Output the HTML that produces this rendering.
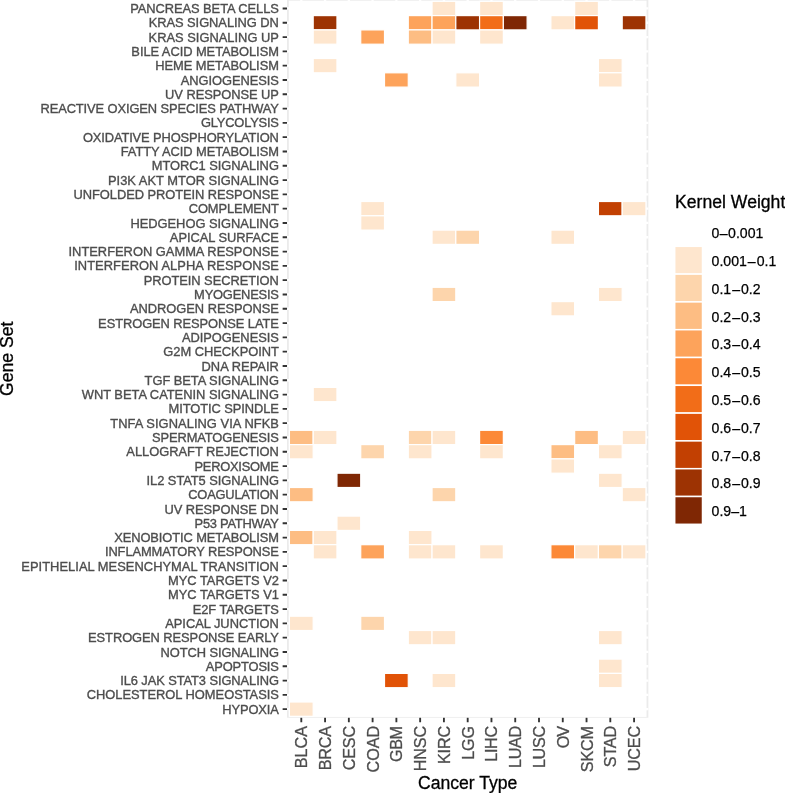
<!DOCTYPE html>
<html lang="en"><head><meta charset="utf-8"><title>Kernel Weight heatmap</title>
<style>html,body{margin:0;padding:0;background:#fff}svg{display:block}text{font-family:"Liberation Sans",Arial,Helvetica,sans-serif}.yl{font-size:12.88px;fill:#4d4d4d;stroke:#4d4d4d;stroke-width:.35px}.xl{font-size:16.2px;fill:#4d4d4d;stroke:#4d4d4d;stroke-width:.3px}.tt{font-size:17.6px;fill:#000;stroke:#000;stroke-width:.3px}.lg{font-size:14.08px;fill:#000;stroke:#000;stroke-width:.25px}</style></head><body>
<svg width="785" height="793" viewBox="0 0 785 793">
<rect width="785" height="793" fill="#fff"/>
<rect x="287.04" y="-0.13" width="361.30" height="717.86" fill="#ebebeb"/>
<path d="M301.30 -0.13V717.73M325.07 -0.13V717.73M348.84 -0.13V717.73M372.61 -0.13V717.73M396.38 -0.13V717.73M420.15 -0.13V717.73M443.92 -0.13V717.73M467.69 -0.13V717.73M491.46 -0.13V717.73M515.23 -0.13V717.73M539.00 -0.13V717.73M562.77 -0.13V717.73M586.54 -0.13V717.73M610.31 -0.13V717.73M634.08 -0.13V717.73M287.04 8.45H648.34M287.04 22.75H648.34M287.04 37.05H648.34M287.04 51.35H648.34M287.04 65.65H648.34M287.04 79.95H648.34M287.04 94.25H648.34M287.04 108.55H648.34M287.04 122.85H648.34M287.04 137.15H648.34M287.04 151.45H648.34M287.04 165.75H648.34M287.04 180.05H648.34M287.04 194.35H648.34M287.04 208.65H648.34M287.04 222.95H648.34M287.04 237.25H648.34M287.04 251.55H648.34M287.04 265.85H648.34M287.04 280.15H648.34M287.04 294.45H648.34M287.04 308.75H648.34M287.04 323.05H648.34M287.04 337.35H648.34M287.04 351.65H648.34M287.04 365.95H648.34M287.04 380.25H648.34M287.04 394.55H648.34M287.04 408.85H648.34M287.04 423.15H648.34M287.04 437.45H648.34M287.04 451.75H648.34M287.04 466.05H648.34M287.04 480.35H648.34M287.04 494.65H648.34M287.04 508.95H648.34M287.04 523.25H648.34M287.04 537.55H648.34M287.04 551.85H648.34M287.04 566.15H648.34M287.04 580.45H648.34M287.04 594.75H648.34M287.04 609.05H648.34M287.04 623.35H648.34M287.04 637.65H648.34M287.04 651.95H648.34M287.04 666.25H648.34M287.04 680.55H648.34M287.04 694.85H648.34M287.04 709.15H648.34" stroke="#fff" stroke-width="2.28" fill="none"/>
<rect x="289.42" y="1.30" width="356.55" height="715.00" fill="#fff" stroke="#fff" stroke-width="1.2"/>
<rect x="432.04" y="1.30" width="23.77" height="14.30" fill="#FEE6CE" stroke="#fff" stroke-width="1.2"/>
<rect x="479.58" y="1.30" width="23.77" height="14.30" fill="#FEE6CE" stroke="#fff" stroke-width="1.2"/>
<rect x="574.65" y="1.30" width="23.77" height="14.30" fill="#FEE6CE" stroke="#fff" stroke-width="1.2"/>
<rect x="313.19" y="15.60" width="23.77" height="14.30" fill="#9D3303" stroke="#fff" stroke-width="1.2"/>
<rect x="408.26" y="15.60" width="23.77" height="14.30" fill="#FDA35B" stroke="#fff" stroke-width="1.2"/>
<rect x="432.04" y="15.60" width="23.77" height="14.30" fill="#FDA35B" stroke="#fff" stroke-width="1.2"/>
<rect x="455.81" y="15.60" width="23.77" height="14.30" fill="#9D3303" stroke="#fff" stroke-width="1.2"/>
<rect x="479.58" y="15.60" width="23.77" height="14.30" fill="#F26D18" stroke="#fff" stroke-width="1.2"/>
<rect x="503.35" y="15.60" width="23.77" height="14.30" fill="#7F2704" stroke="#fff" stroke-width="1.2"/>
<rect x="550.88" y="15.60" width="23.77" height="14.30" fill="#FEE6CE" stroke="#fff" stroke-width="1.2"/>
<rect x="574.65" y="15.60" width="23.77" height="14.30" fill="#E15307" stroke="#fff" stroke-width="1.2"/>
<rect x="622.19" y="15.60" width="23.77" height="14.30" fill="#9D3303" stroke="#fff" stroke-width="1.2"/>
<rect x="313.19" y="29.90" width="23.77" height="14.30" fill="#FEE6CE" stroke="#fff" stroke-width="1.2"/>
<rect x="360.73" y="29.90" width="23.77" height="14.30" fill="#FDA35B" stroke="#fff" stroke-width="1.2"/>
<rect x="408.26" y="29.90" width="23.77" height="14.30" fill="#FDBD83" stroke="#fff" stroke-width="1.2"/>
<rect x="432.04" y="29.90" width="23.77" height="14.30" fill="#FEE6CE" stroke="#fff" stroke-width="1.2"/>
<rect x="479.58" y="29.90" width="23.77" height="14.30" fill="#FEE6CE" stroke="#fff" stroke-width="1.2"/>
<rect x="313.19" y="58.50" width="23.77" height="14.30" fill="#FEE6CE" stroke="#fff" stroke-width="1.2"/>
<rect x="598.42" y="58.50" width="23.77" height="14.30" fill="#FEE6CE" stroke="#fff" stroke-width="1.2"/>
<rect x="384.50" y="72.80" width="23.77" height="14.30" fill="#FDA35B" stroke="#fff" stroke-width="1.2"/>
<rect x="455.81" y="72.80" width="23.77" height="14.30" fill="#FEE6CE" stroke="#fff" stroke-width="1.2"/>
<rect x="598.42" y="72.80" width="23.77" height="14.30" fill="#FEE6CE" stroke="#fff" stroke-width="1.2"/>
<rect x="360.73" y="201.50" width="23.77" height="14.30" fill="#FEE6CE" stroke="#fff" stroke-width="1.2"/>
<rect x="598.42" y="201.50" width="23.77" height="14.30" fill="#C24002" stroke="#fff" stroke-width="1.2"/>
<rect x="622.19" y="201.50" width="23.77" height="14.30" fill="#FEE6CE" stroke="#fff" stroke-width="1.2"/>
<rect x="360.73" y="215.80" width="23.77" height="14.30" fill="#FEE6CE" stroke="#fff" stroke-width="1.2"/>
<rect x="432.04" y="230.10" width="23.77" height="14.30" fill="#FEE6CE" stroke="#fff" stroke-width="1.2"/>
<rect x="455.81" y="230.10" width="23.77" height="14.30" fill="#FDD5AC" stroke="#fff" stroke-width="1.2"/>
<rect x="550.88" y="230.10" width="23.77" height="14.30" fill="#FEE6CE" stroke="#fff" stroke-width="1.2"/>
<rect x="432.04" y="287.30" width="23.77" height="14.30" fill="#FDD5AC" stroke="#fff" stroke-width="1.2"/>
<rect x="598.42" y="287.30" width="23.77" height="14.30" fill="#FEE6CE" stroke="#fff" stroke-width="1.2"/>
<rect x="550.88" y="301.60" width="23.77" height="14.30" fill="#FEE6CE" stroke="#fff" stroke-width="1.2"/>
<rect x="313.19" y="387.40" width="23.77" height="14.30" fill="#FEE6CE" stroke="#fff" stroke-width="1.2"/>
<rect x="289.42" y="430.30" width="23.77" height="14.30" fill="#FDBD83" stroke="#fff" stroke-width="1.2"/>
<rect x="313.19" y="430.30" width="23.77" height="14.30" fill="#FEE6CE" stroke="#fff" stroke-width="1.2"/>
<rect x="408.26" y="430.30" width="23.77" height="14.30" fill="#FDD5AC" stroke="#fff" stroke-width="1.2"/>
<rect x="432.04" y="430.30" width="23.77" height="14.30" fill="#FEE6CE" stroke="#fff" stroke-width="1.2"/>
<rect x="479.58" y="430.30" width="23.77" height="14.30" fill="#FC8937" stroke="#fff" stroke-width="1.2"/>
<rect x="574.65" y="430.30" width="23.77" height="14.30" fill="#FDBD83" stroke="#fff" stroke-width="1.2"/>
<rect x="622.19" y="430.30" width="23.77" height="14.30" fill="#FEE6CE" stroke="#fff" stroke-width="1.2"/>
<rect x="289.42" y="444.60" width="23.77" height="14.30" fill="#FEE6CE" stroke="#fff" stroke-width="1.2"/>
<rect x="360.73" y="444.60" width="23.77" height="14.30" fill="#FDD5AC" stroke="#fff" stroke-width="1.2"/>
<rect x="408.26" y="444.60" width="23.77" height="14.30" fill="#FEE6CE" stroke="#fff" stroke-width="1.2"/>
<rect x="479.58" y="444.60" width="23.77" height="14.30" fill="#FEE6CE" stroke="#fff" stroke-width="1.2"/>
<rect x="550.88" y="444.60" width="23.77" height="14.30" fill="#FDBD83" stroke="#fff" stroke-width="1.2"/>
<rect x="598.42" y="444.60" width="23.77" height="14.30" fill="#FEE6CE" stroke="#fff" stroke-width="1.2"/>
<rect x="550.88" y="458.90" width="23.77" height="14.30" fill="#FEE6CE" stroke="#fff" stroke-width="1.2"/>
<rect x="336.96" y="473.20" width="23.77" height="14.30" fill="#7F2704" stroke="#fff" stroke-width="1.2"/>
<rect x="598.42" y="473.20" width="23.77" height="14.30" fill="#FEE6CE" stroke="#fff" stroke-width="1.2"/>
<rect x="289.42" y="487.50" width="23.77" height="14.30" fill="#FDBD83" stroke="#fff" stroke-width="1.2"/>
<rect x="432.04" y="487.50" width="23.77" height="14.30" fill="#FDD5AC" stroke="#fff" stroke-width="1.2"/>
<rect x="622.19" y="487.50" width="23.77" height="14.30" fill="#FEE6CE" stroke="#fff" stroke-width="1.2"/>
<rect x="336.96" y="516.10" width="23.77" height="14.30" fill="#FEE6CE" stroke="#fff" stroke-width="1.2"/>
<rect x="289.42" y="530.40" width="23.77" height="14.30" fill="#FDBD83" stroke="#fff" stroke-width="1.2"/>
<rect x="313.19" y="530.40" width="23.77" height="14.30" fill="#FEE6CE" stroke="#fff" stroke-width="1.2"/>
<rect x="408.26" y="530.40" width="23.77" height="14.30" fill="#FEE6CE" stroke="#fff" stroke-width="1.2"/>
<rect x="313.19" y="544.70" width="23.77" height="14.30" fill="#FEE6CE" stroke="#fff" stroke-width="1.2"/>
<rect x="360.73" y="544.70" width="23.77" height="14.30" fill="#FDA35B" stroke="#fff" stroke-width="1.2"/>
<rect x="408.26" y="544.70" width="23.77" height="14.30" fill="#FEE6CE" stroke="#fff" stroke-width="1.2"/>
<rect x="432.04" y="544.70" width="23.77" height="14.30" fill="#FEE6CE" stroke="#fff" stroke-width="1.2"/>
<rect x="479.58" y="544.70" width="23.77" height="14.30" fill="#FEE6CE" stroke="#fff" stroke-width="1.2"/>
<rect x="550.88" y="544.70" width="23.77" height="14.30" fill="#FC8937" stroke="#fff" stroke-width="1.2"/>
<rect x="574.65" y="544.70" width="23.77" height="14.30" fill="#FEE6CE" stroke="#fff" stroke-width="1.2"/>
<rect x="598.42" y="544.70" width="23.77" height="14.30" fill="#FDD5AC" stroke="#fff" stroke-width="1.2"/>
<rect x="622.19" y="544.70" width="23.77" height="14.30" fill="#FEE6CE" stroke="#fff" stroke-width="1.2"/>
<rect x="289.42" y="616.20" width="23.77" height="14.30" fill="#FEE6CE" stroke="#fff" stroke-width="1.2"/>
<rect x="360.73" y="616.20" width="23.77" height="14.30" fill="#FDD5AC" stroke="#fff" stroke-width="1.2"/>
<rect x="408.26" y="630.50" width="23.77" height="14.30" fill="#FEE6CE" stroke="#fff" stroke-width="1.2"/>
<rect x="432.04" y="630.50" width="23.77" height="14.30" fill="#FEE6CE" stroke="#fff" stroke-width="1.2"/>
<rect x="598.42" y="630.50" width="23.77" height="14.30" fill="#FEE6CE" stroke="#fff" stroke-width="1.2"/>
<rect x="598.42" y="659.10" width="23.77" height="14.30" fill="#FEE6CE" stroke="#fff" stroke-width="1.2"/>
<rect x="384.50" y="673.40" width="23.77" height="14.30" fill="#E15307" stroke="#fff" stroke-width="1.2"/>
<rect x="432.04" y="673.40" width="23.77" height="14.30" fill="#FEE6CE" stroke="#fff" stroke-width="1.2"/>
<rect x="598.42" y="673.40" width="23.77" height="14.30" fill="#FEE6CE" stroke="#fff" stroke-width="1.2"/>
<rect x="289.42" y="702.00" width="23.77" height="14.30" fill="#FEE6CE" stroke="#fff" stroke-width="1.2"/>
<path d="M301.30 717.73v4.40M325.07 717.73v4.40M348.84 717.73v4.40M372.61 717.73v4.40M396.38 717.73v4.40M420.15 717.73v4.40M443.92 717.73v4.40M467.69 717.73v4.40M491.46 717.73v4.40M515.23 717.73v4.40M539.00 717.73v4.40M562.77 717.73v4.40M586.54 717.73v4.40M610.31 717.73v4.40M634.08 717.73v4.40M287.04 8.45h-4.40M287.04 22.75h-4.40M287.04 37.05h-4.40M287.04 51.35h-4.40M287.04 65.65h-4.40M287.04 79.95h-4.40M287.04 94.25h-4.40M287.04 108.55h-4.40M287.04 122.85h-4.40M287.04 137.15h-4.40M287.04 151.45h-4.40M287.04 165.75h-4.40M287.04 180.05h-4.40M287.04 194.35h-4.40M287.04 208.65h-4.40M287.04 222.95h-4.40M287.04 237.25h-4.40M287.04 251.55h-4.40M287.04 265.85h-4.40M287.04 280.15h-4.40M287.04 294.45h-4.40M287.04 308.75h-4.40M287.04 323.05h-4.40M287.04 337.35h-4.40M287.04 351.65h-4.40M287.04 365.95h-4.40M287.04 380.25h-4.40M287.04 394.55h-4.40M287.04 408.85h-4.40M287.04 423.15h-4.40M287.04 437.45h-4.40M287.04 451.75h-4.40M287.04 466.05h-4.40M287.04 480.35h-4.40M287.04 494.65h-4.40M287.04 508.95h-4.40M287.04 523.25h-4.40M287.04 537.55h-4.40M287.04 551.85h-4.40M287.04 566.15h-4.40M287.04 580.45h-4.40M287.04 594.75h-4.40M287.04 609.05h-4.40M287.04 623.35h-4.40M287.04 637.65h-4.40M287.04 651.95h-4.40M287.04 666.25h-4.40M287.04 680.55h-4.40M287.04 694.85h-4.40M287.04 709.15h-4.40" stroke="#333" stroke-width="1.85" fill="none"/>
<text class="yl" x="130.14" y="13.05" textLength="148.76">PANCREAS BETA CELLS</text>
<text class="yl" x="148.63" y="27.35" textLength="130.27">KRAS SIGNALING DN</text>
<text class="yl" x="148.61" y="41.65" textLength="130.29">KRAS SIGNALING UP</text>
<text class="yl" x="131.36" y="55.95" textLength="147.54">BILE ACID METABOLISM</text>
<text class="yl" x="155.32" y="70.25" textLength="123.58">HEME METABOLISM</text>
<text class="yl" x="180.84" y="84.55" textLength="98.06">ANGIOGENESIS</text>
<text class="yl" x="165.09" y="98.85" textLength="113.81">UV RESPONSE UP</text>
<text class="yl" x="40.44" y="113.15" textLength="238.46">REACTIVE OXIGEN SPECIES PATHWAY</text>
<text class="yl" x="201.01" y="127.45" textLength="77.89">GLYCOLYSIS</text>
<text class="yl" x="82.90" y="141.75" textLength="196.00">OXIDATIVE PHOSPHORYLATION</text>
<text class="yl" x="120.76" y="156.05" textLength="158.14">FATTY ACID METABOLISM</text>
<text class="yl" x="151.74" y="170.35" textLength="127.16">MTORC1 SIGNALING</text>
<text class="yl" x="107.93" y="184.65" textLength="170.97">PI3K AKT MTOR SIGNALING</text>
<text class="yl" x="73.56" y="198.95" textLength="205.34">UNFOLDED PROTEIN RESPONSE</text>
<text class="yl" x="188.71" y="213.25" textLength="90.19">COMPLEMENT</text>
<text class="yl" x="130.39" y="227.55" textLength="148.51">HEDGEHOG SIGNALING</text>
<text class="yl" x="169.85" y="241.85" textLength="109.05">APICAL SURFACE</text>
<text class="yl" x="68.50" y="256.15" textLength="210.40">INTERFERON GAMMA RESPONSE</text>
<text class="yl" x="74.15" y="270.45" textLength="204.75">INTERFERON ALPHA RESPONSE</text>
<text class="yl" x="143.65" y="284.75" textLength="135.25">PROTEIN SECRETION</text>
<text class="yl" x="194.10" y="299.05" textLength="84.80">MYOGENESIS</text>
<text class="yl" x="130.04" y="313.35" textLength="148.86">ANDROGEN RESPONSE</text>
<text class="yl" x="98.11" y="327.65" textLength="180.79">ESTROGEN RESPONSE LATE</text>
<text class="yl" x="181.89" y="341.95" textLength="97.01">ADIPOGENESIS</text>
<text class="yl" x="163.31" y="356.25" textLength="115.59">G2M CHECKPOINT</text>
<text class="yl" x="201.43" y="370.55" textLength="77.47">DNA REPAIR</text>
<text class="yl" x="144.59" y="384.85" textLength="134.31">TGF BETA SIGNALING</text>
<text class="yl" x="81.75" y="399.15" textLength="197.15">WNT BETA CATENIN SIGNALING</text>
<text class="yl" x="168.56" y="413.45" textLength="110.34">MITOTIC SPINDLE</text>
<text class="yl" x="110.30" y="427.75" textLength="168.60">TNFA SIGNALING VIA NFKB</text>
<text class="yl" x="152.00" y="442.05" textLength="126.90">SPERMATOGENESIS</text>
<text class="yl" x="126.34" y="456.35" textLength="152.56">ALLOGRAFT REJECTION</text>
<text class="yl" x="194.47" y="470.65" textLength="84.43">PEROXISOME</text>
<text class="yl" x="146.61" y="484.95" textLength="132.29">IL2 STAT5 SIGNALING</text>
<text class="yl" x="188.28" y="499.25" textLength="90.62">COAGULATION</text>
<text class="yl" x="164.38" y="513.55" textLength="114.52">UV RESPONSE DN</text>
<text class="yl" x="194.60" y="527.85" textLength="84.30">P53 PATHWAY</text>
<text class="yl" x="114.22" y="542.15" textLength="164.68">XENOBIOTIC METABOLISM</text>
<text class="yl" x="104.91" y="556.45" textLength="173.99">INFLAMMATORY RESPONSE</text>
<text class="yl" x="21.35" y="570.75" textLength="257.55">EPITHELIAL MESENCHYMAL TRANSITION</text>
<text class="yl" x="168.06" y="585.05" textLength="110.84">MYC TARGETS V2</text>
<text class="yl" x="168.06" y="599.35" textLength="110.84">MYC TARGETS V1</text>
<text class="yl" x="192.76" y="613.65" textLength="86.14">E2F TARGETS</text>
<text class="yl" x="165.22" y="627.95" textLength="113.68">APICAL JUNCTION</text>
<text class="yl" x="88.07" y="642.25" textLength="190.83">ESTROGEN RESPONSE EARLY</text>
<text class="yl" x="160.47" y="656.55" textLength="118.43">NOTCH SIGNALING</text>
<text class="yl" x="205.75" y="670.85" textLength="73.15">APOPTOSIS</text>
<text class="yl" x="120.16" y="685.15" textLength="158.74">IL6 JAK STAT3 SIGNALING</text>
<text class="yl" x="86.75" y="699.45" textLength="192.15">CHOLESTEROL HOMEOSTASIS</text>
<text class="yl" x="222.32" y="713.75" textLength="56.58">HYPOXIA</text>
<text class="xl" transform="translate(307.30 725.90) rotate(-90)" x="-42.30" y="0" textLength="42.30">BLCA</text>
<text class="xl" transform="translate(331.07 725.90) rotate(-90)" x="-44.48" y="0" textLength="44.48">BRCA</text>
<text class="xl" transform="translate(354.84 725.90) rotate(-90)" x="-44.48" y="0" textLength="44.48">CESC</text>
<text class="xl" transform="translate(378.61 725.90) rotate(-90)" x="-46.53" y="0" textLength="46.53">COAD</text>
<text class="xl" transform="translate(402.38 725.90) rotate(-90)" x="-36.17" y="0" textLength="36.17">GBM</text>
<text class="xl" transform="translate(426.15 725.90) rotate(-90)" x="-45.38" y="0" textLength="45.38">HNSC</text>
<text class="xl" transform="translate(449.92 725.90) rotate(-90)" x="-38.19" y="0" textLength="38.19">KIRC</text>
<text class="xl" transform="translate(473.69 725.90) rotate(-90)" x="-33.94" y="0" textLength="33.94">LGG</text>
<text class="xl" transform="translate(497.46 725.90) rotate(-90)" x="-35.89" y="0" textLength="35.89">LIHC</text>
<text class="xl" transform="translate(521.23 725.90) rotate(-90)" x="-41.99" y="0" textLength="41.99">LUAD</text>
<text class="xl" transform="translate(545.00 725.90) rotate(-90)" x="-42.19" y="0" textLength="42.19">LUSC</text>
<text class="xl" transform="translate(568.77 725.90) rotate(-90)" x="-22.39" y="0" textLength="22.39">OV</text>
<text class="xl" transform="translate(592.54 725.90) rotate(-90)" x="-46.28" y="0" textLength="46.28">SKCM</text>
<text class="xl" transform="translate(616.31 725.90) rotate(-90)" x="-41.28" y="0" textLength="41.28">STAD</text>
<text class="xl" transform="translate(640.08 725.90) rotate(-90)" x="-45.38" y="0" textLength="45.38">UCEC</text>
<text class="tt" x="467.69" y="789.10" text-anchor="middle">Cancer Type</text>
<text class="tt" transform="translate(13.20 358.80) rotate(-90)" text-anchor="middle">Gene Set</text>
<text class="tt" x="675.10" y="208.00">Kernel Weight</text>
<text class="lg" x="711.60" y="238.20">0<tspan dx="0.4">–</tspan><tspan dx="0.4">0.001</tspan></text>
<rect x="674.70" y="246.30" width="27.80" height="27.80" fill="#FEE6CE" stroke="#fff" stroke-width="1.5"/>
<text class="lg" x="711.60" y="266.00">0.001<tspan dx="1.0">–</tspan><tspan dx="1.0">0.1</tspan></text>
<rect x="674.70" y="274.10" width="27.80" height="27.80" fill="#FDD5AC" stroke="#fff" stroke-width="1.5"/>
<text class="lg" x="711.60" y="293.80">0.1<tspan dx="1.0">–</tspan><tspan dx="1.0">0.2</tspan></text>
<rect x="674.70" y="301.90" width="27.80" height="27.80" fill="#FDBD83" stroke="#fff" stroke-width="1.5"/>
<text class="lg" x="711.60" y="321.60">0.2<tspan dx="1.0">–</tspan><tspan dx="1.0">0.3</tspan></text>
<rect x="674.70" y="329.70" width="27.80" height="27.80" fill="#FDA35B" stroke="#fff" stroke-width="1.5"/>
<text class="lg" x="711.60" y="349.40">0.3<tspan dx="1.0">–</tspan><tspan dx="1.0">0.4</tspan></text>
<rect x="674.70" y="357.50" width="27.80" height="27.80" fill="#FC8937" stroke="#fff" stroke-width="1.5"/>
<text class="lg" x="711.60" y="377.20">0.4<tspan dx="1.0">–</tspan><tspan dx="1.0">0.5</tspan></text>
<rect x="674.70" y="385.30" width="27.80" height="27.80" fill="#F26D18" stroke="#fff" stroke-width="1.5"/>
<text class="lg" x="711.60" y="405.00">0.5<tspan dx="1.0">–</tspan><tspan dx="1.0">0.6</tspan></text>
<rect x="674.70" y="413.10" width="27.80" height="27.80" fill="#E15307" stroke="#fff" stroke-width="1.5"/>
<text class="lg" x="711.60" y="432.80">0.6<tspan dx="1.0">–</tspan><tspan dx="1.0">0.7</tspan></text>
<rect x="674.70" y="440.90" width="27.80" height="27.80" fill="#C24002" stroke="#fff" stroke-width="1.5"/>
<text class="lg" x="711.60" y="460.60">0.7<tspan dx="1.0">–</tspan><tspan dx="1.0">0.8</tspan></text>
<rect x="674.70" y="468.70" width="27.80" height="27.80" fill="#9D3303" stroke="#fff" stroke-width="1.5"/>
<text class="lg" x="711.60" y="488.40">0.8<tspan dx="1.0">–</tspan><tspan dx="1.0">0.9</tspan></text>
<rect x="674.70" y="496.50" width="27.80" height="27.80" fill="#7F2704" stroke="#fff" stroke-width="1.5"/>
<text class="lg" x="711.60" y="516.20">0.9<tspan dx="0.0">–</tspan><tspan dx="0.0">1</tspan></text>
</svg></body></html>
